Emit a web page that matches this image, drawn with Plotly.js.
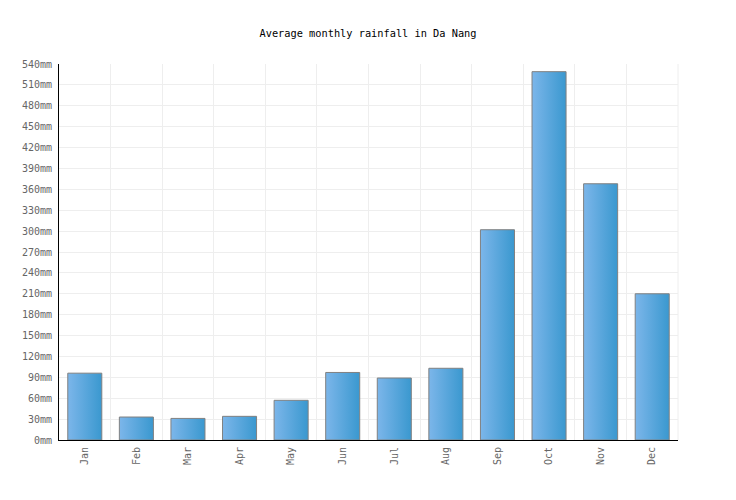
<!DOCTYPE html>
<html>
<head>
<meta charset="utf-8">
<script src="https://cdn.plot.ly/plotly-3.0.1.min.js"></script>
<style>
  html, body { margin: 0; padding: 0; background: #fff; }
  #chart { width: 736px; height: 500px; }
</style>
</head>
<body>
<div id="chart"></div>
<script>
// Average monthly rainfall, Da Nang (mm)
const MONTHS = ["Jan", "Feb", "Mar", "Apr", "May", "Jun", "Jul", "Aug", "Sep", "Oct", "Nov", "Dec"];
const RAINFALL_MM = [96, 33, 31, 34, 57, 97, 89, 103, 302, 529, 368, 210];
const Y_TICKS = [0, 30, 60, 90, 120, 150, 180, 210, 240, 270, 300, 330, 360, 390, 420, 450, 480, 510, 540];

const FONT = "'DejaVu Sans Mono', 'Liberation Mono', monospace";
const GRID = "#eeeeee";

const trace = {
  type: "bar",
  x: MONTHS,
  y: RAINFALL_MM,
  marker: { color: "#5aa7dd", line: { color: "#808080", width: 1 } },
  hoverinfo: "x+y",
};

const layout = {
  width: 736,
  height: 500,
  margin: { l: 59, r: 58, t: 64, b: 60 },
  paper_bgcolor: "#fff",
  plot_bgcolor: "#fff",
  font: { family: FONT, size: 10, color: "#555" },
  title: {
    text: "Average monthly rainfall in Da Nang",
    font: { family: FONT, size: 10.3, color: "#000" },
    x: 0.5,
    xanchor: "center",
    y: 0.934,
    yanchor: "middle",
  },
  bargap: 0.34,
  showlegend: false,
  xaxis: {
    type: "category",
    tickson: "boundaries",
    showgrid: true,
    gridcolor: GRID,
    gridwidth: 1,
    tickangle: -90,
    ticks: "",
    ticklabelstandoff: 2,
    showline: true,
    linecolor: "#000",
    linewidth: 1,
    tickfont: { family: FONT, size: 10, color: "#666" },
    automargin: false,
  },
  yaxis: {
    range: [0, 540],
    tickmode: "array",
    tickvals: Y_TICKS,
    ticktext: Y_TICKS.map((v) => v + "mm"),
    showgrid: true,
    gridcolor: GRID,
    gridwidth: 1,
    zeroline: false,
    showline: true,
    linecolor: "#000",
    linewidth: 1,
    ticks: "",
    ticklabelstandoff: 4,
    tickfont: { family: FONT, size: 10, color: "#666" },
    automargin: false,
  },
  shapes: [
    // right edge of the plot area carries a grid line too
    { type: "line", xref: "paper", yref: "paper", x0: 1, x1: 1, y0: 0, y1: 1, line: { color: GRID, width: 1 }, layer: "below" },
  ],
};

// Plotly bars have no gradient fill, so add one to the SVG after drawing
function applyGradient(gd) {
  const svg = gd.querySelector("svg.main-svg");
  if (!svg) return;
  const ns = "http://www.w3.org/2000/svg";
  let defs = svg.querySelector("defs");
  if (!defs) {
    defs = document.createElementNS(ns, "defs");
    svg.insertBefore(defs, svg.firstChild);
  }
  if (!svg.querySelector("#barGrad")) {
    const grad = document.createElementNS(ns, "linearGradient");
    grad.setAttribute("id", "barGrad");
    grad.setAttribute("x1", "0");
    grad.setAttribute("y1", "0");
    grad.setAttribute("x2", "1");
    grad.setAttribute("y2", "0");
    [["0%", "#7cb6ea"], ["100%", "#3a98cf"]].forEach(([off, col]) => {
      const stop = document.createElementNS(ns, "stop");
      stop.setAttribute("offset", off);
      stop.setAttribute("stop-color", col);
      grad.appendChild(stop);
    });
    defs.appendChild(grad);
  }
  gd.querySelectorAll(".barlayer .point path").forEach((p) => {
    p.style.fill = "url(#barGrad)";
  });
}

const gd = document.getElementById("chart");
Plotly.newPlot(gd, [trace], layout, { displayModeBar: false, responsive: false }).then(() => {
  applyGradient(gd);
  gd.on("plotly_afterplot", () => applyGradient(gd));
});
</script>
</body>
</html>
